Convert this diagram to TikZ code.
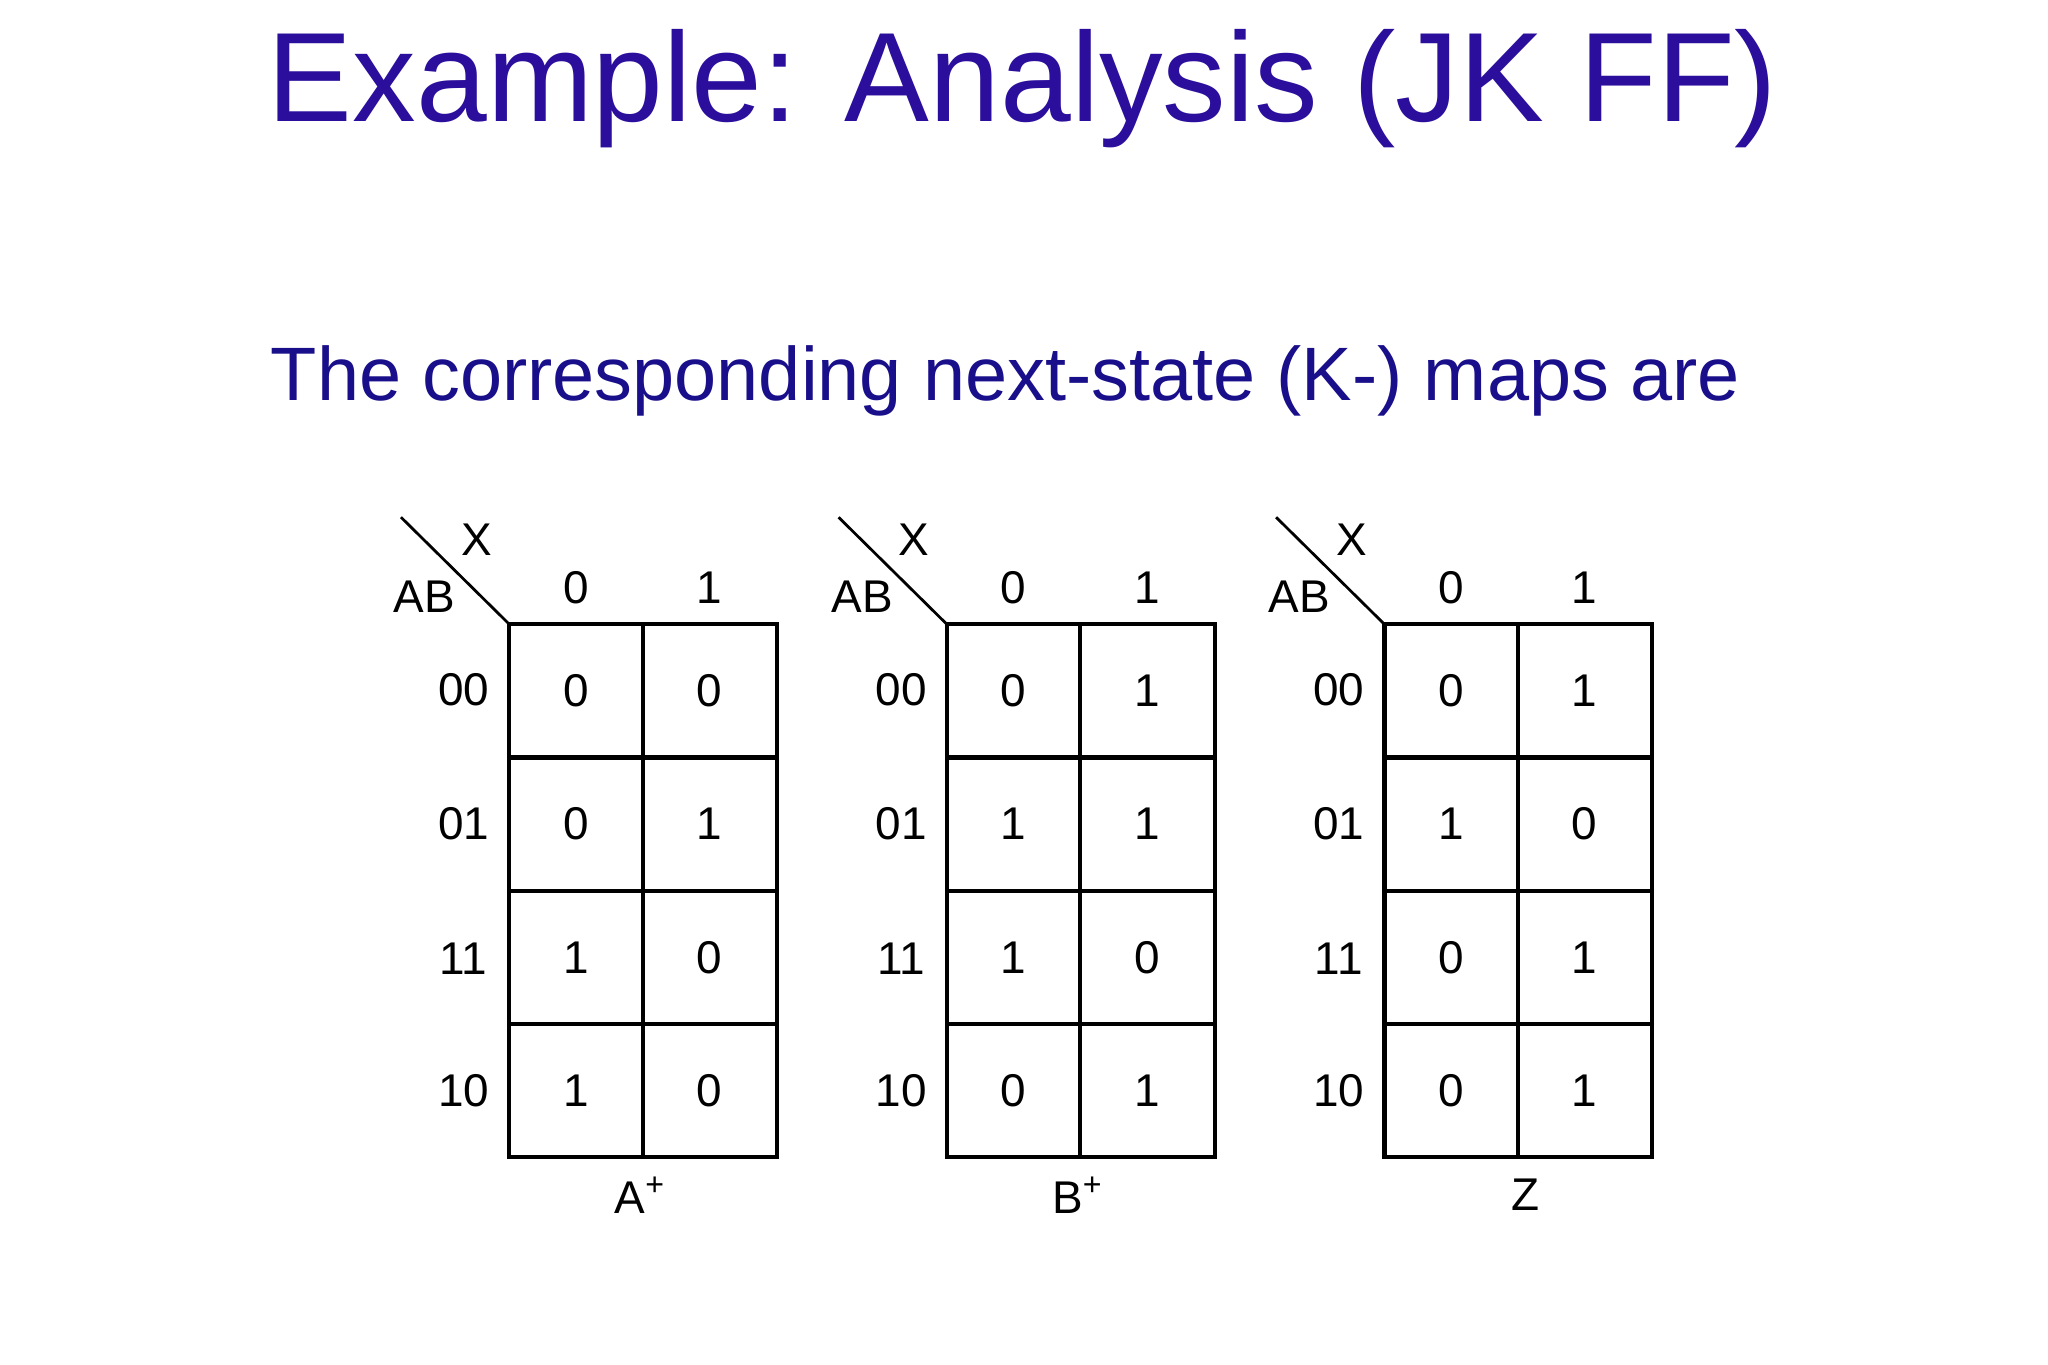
\documentclass[tikz,border=0pt]{standalone}
\usepackage{fontspec}
\setmainfont{Liberation Sans}
\definecolor{ttl}{HTML}{2B0E9C}
\definecolor{sub}{HTML}{1A0F8A}
\begin{document}
\begin{tikzpicture}[x=0.02cm,y=-0.02cm,
  lbl/.style={font=\fontsize{20}{22}\selectfont,inner sep=0pt},
  grid/.style={line width=1.8pt}]
\useasboundingbox (0,0) rectangle (1568,1045);
\fill[white] (0,0) rectangle (1568,1045);
\node[text=ttl,font=\fontsize{55.4}{62}\selectfont,inner sep=0pt] (title) at (783,68) {Example: Analysis (JK FF)};
\node[text=sub,font=\fontsize{33}{38}\selectfont,inner sep=0pt,anchor=west] (subt) at (207,292) {The corresponding next-state (K-) maps are};
\foreach \ox/\nm/\nx/\vals in {0/{A\textsuperscript{+}}/490/{0,0,0,1,1,0,1,0}, 335/{B\textsuperscript{+}}/490/{0,1,1,1,1,0,0,1}, 670/{Z}/498/{0,1,1,0,0,1,0,1}}{
  \begin{scope}[xshift=\ox*0.02cm]
  \draw[grid] (390,478) rectangle (595,886);
  \draw[grid] (492,478) -- (492,886);
  \foreach \y in {580,682,784} \draw[grid] (390,\y) -- (595,\y);
  \draw[line width=1.2pt] (307,396) -- (390,478);
  \node[lbl] (x) at (365,413) {X};
  \node[lbl] (ab) at (325,457) {AB};
  \node[lbl] (c0) at (441,450) {0};
  \node[lbl] (c1) at (543,450) {1};
  \foreach \r/\y in {00/528,01/631,11/734,10/835} \node[lbl] at (355,\y) {\r};
  \node[lbl] (nm) at (\nx,915) {\nm};
  \foreach \v [count=\i from 0] in \vals {
    \pgfmathtruncatemacro{\row}{div(\i,2)}
    \pgfmathtruncatemacro{\col}{mod(\i,2)}
    \node[lbl] at ({441+102*\col},{529+102*\row}) {\v};
  }
  \end{scope}
}
\end{tikzpicture}
\end{document}
